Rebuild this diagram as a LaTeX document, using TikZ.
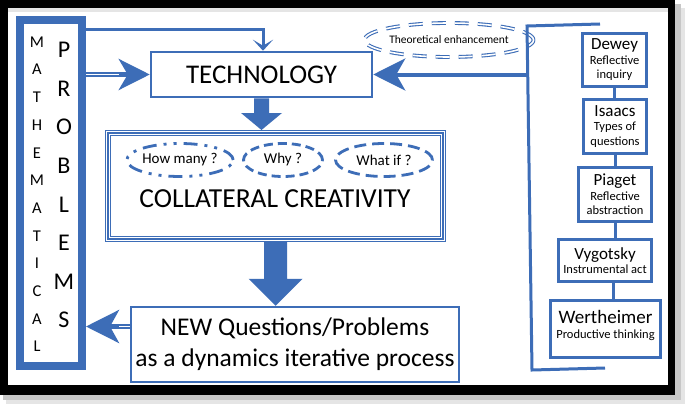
\documentclass[tikz,border=0pt]{standalone}
\usepackage{fontspec}
\setmainfont{Carlito}
\usetikzlibrary{arrows.meta,shapes.geometric,calc}
\definecolor{bl}{RGB}{61,109,183}
\begin{document}
\begin{tikzpicture}[x=1pt,y=-1pt,
  box/.style={draw=bl, line width=2.5pt, inner sep=0pt, align=center},
  rbox/.style={draw=bl, line width=3pt, inner sep=0pt, align=center, font=\fontsize{12.5}{14.5}\selectfont},
  conn/.style={draw=bl, line width=3pt},
  oval/.style={ellipse, draw=bl, line width=2.8pt, inner sep=0pt, minimum height=33pt, font=\fontsize{15}{17}\selectfont},
  blk/.style={fill=bl, draw=none},
  dblarrow/.style={draw=bl, line width=4.5pt, -{Stealth[length=#1,width=#1,inset=9pt]}},
  innerline/.style={draw=white, line width=1.3pt, shorten >=#1}
]
\useasboundingbox (0,0) rectangle (685,404);
% frame with shadow
\fill[black!10] (6,8) rectangle (685,404);
\fill[black!22] (3,4) rectangle (681,400);
\fill[black] (0,0) rectangle (675,395);
\fill[black!10] (8,8) rectangle (668,385);
\fill[white] (8,12) rectangle (668,385);

% left box
\node[draw=bl, line width=8pt, minimum width=62pt, minimum height=346pt, inner sep=0pt] (mp) at (51,193) {};
\foreach \l [count=\i] in {M,A,T,H,E,M,A,T,I,C,A,L}
  \node[inner sep=0pt, font=\fontsize{16.5}{18}\selectfont] (ma\i) at (37,{42+(\i-1)*27.7}) {\l};
\foreach \l [count=\i] in {P,R,O,B,L,E,M,S}
  \node[inner sep=0pt, font=\fontsize{24}{26}\selectfont] (pr\i) at (64,{50+(\i-1)*38.6}) {\l};

% technology
\node[box, minimum width=221pt, minimum height=45pt, font=\fontsize{27}{30}\selectfont] (tech) at (261.5,74.5) {TECHNOLOGY};

% collateral creativity box
\node[minimum width=335pt, minimum height=106pt, inner sep=0pt, outer sep=3pt,
  preaction={draw=bl, line width=6pt},
  preaction={draw=white, line width=3.6pt},
  draw=bl, line width=1.2pt] (coll) at (275.5,186) {};
\node[inner sep=0pt, font=\fontsize{27.5}{30}\selectfont] (ct) at (275,199) {COLLATERAL CREATIVITY};
\node[oval, minimum width=105pt, dash pattern=on 14pt off 7pt on 3pt off 7pt on 3pt off 7pt] (hm) at (180,160) {How many ?};
\node[oval, minimum width=79pt, dash pattern=on 9pt off 5pt] (why) at (283,160) {Why ?};
\node[oval, minimum width=97pt, dash pattern=on 12pt off 6pt] (wi) at (384,160) {What if ?};

% new questions box
\node[box, minimum width=328pt, minimum height=75pt, font=\fontsize{25.5}{31}\selectfont] (new) at (295,344.5) {NEW Questions/Problems\\as a dynamics iterative process};

% theoretical enhancement
\node[ellipse, draw=bl, line width=1.1pt, double=white, double distance=1.6pt, dash pattern=on 14pt off 9pt, minimum width=146pt, minimum height=34pt, inner sep=0pt, font=\fontsize{11.5}{13}\selectfont] (te) at (449,40) {Theoretical enhancement};

% right boxes
\node[rbox, minimum width=64pt, minimum height=53pt] (dew) at (614.5,60) {{\fontsize{17}{17}\selectfont Dewey}\\Reflective\\inquiry};
\node[rbox, minimum width=63pt, minimum height=54pt] (isa) at (615,126.5) {{\fontsize{17}{17}\selectfont Isaacs}\\Types of\\questions};
\node[rbox, minimum width=73pt, minimum height=54pt] (pia) at (615,194.5) {{\fontsize{17}{17}\selectfont Piaget}\\Reflective\\abstraction};
\node[rbox, minimum width=93pt, minimum height=42pt] (vyg) at (605,260.5) {{\fontsize{17}{17}\selectfont Vygotsky}\\Instrumental act};
\node[rbox, minimum width=110pt, minimum height=57pt] (wer) at (605.5,329) {{\fontsize{19}{19}\selectfont Wertheimer}\\Productive thinking\\[-5pt]\mbox{}};
\draw[conn] (dew.south) -- (dew.south |- isa.north);
\draw[conn] (isa.south) -- (isa.south |- pia.north);
\draw[conn] (pia.south) -- (pia.south |- vyg.north);
\draw[conn] ([xshift=-2pt]pia.south |- vyg.south) -- ([xshift=-2pt]pia.south |- wer.north);

% bracket
\coordinate (b1) at (600,24);
\coordinate (b2) at (527,26);
\coordinate (b3) at (532,370);
\coordinate (b4) at (605,368);
\draw[conn] (b1) -- (b2) -- (b3) -- (b4);

% arrows
\draw[bl, line width=4pt, -{Stealth[length=32pt,width=32pt,inset=9pt]}] (b2 |- tech.east) -- (tech.east);
\draw[bl, line width=3pt, -{Stealth[length=11pt,width=20pt,inset=6pt]}] ([yshift=-14pt]mp.north east) -| ([xshift=1.5pt]tech.north);
\draw[dblarrow=31pt] (mp.east |- tech.west) -- (tech.west);
\draw[innerline=31pt] (mp.east |- tech.west) -- (tech.west);
\draw[dblarrow=33pt] ([yshift=18pt]new.west) -- ([yshift=18pt]new.west -| mp.east);
\draw[innerline=33pt] ([yshift=18pt]new.west) -- ([yshift=18pt]new.west -| mp.east);

% block arrows
\path (tech.south) coordinate (a1s) (tech.south |- coll.north) coordinate (a1e);
\fill[blk] ($(a1s)+(-7.5,0)$) -- ($(a1s)+(7.5,0)$) -- ($(a1e)+(7.5,-17)$) -- ($(a1e)+(20.5,-17)$) -- (a1e) -- ($(a1e)+(-20.5,-17)$) -- ($(a1e)+(-7.5,-17)$) -- cycle;
\path (coll.south) coordinate (a2s) (coll.south |- new.north) coordinate (a2e);
\fill[blk] ($(a2s)+(-11.5,0)$) -- ($(a2s)+(11.5,0)$) -- ($(a2e)+(11.5,-27)$) -- ($(a2e)+(27,-27)$) -- (a2e) -- ($(a2e)+(-27,-27)$) -- ($(a2e)+(-11.5,-27)$) -- cycle;
\end{tikzpicture}
\end{document}
